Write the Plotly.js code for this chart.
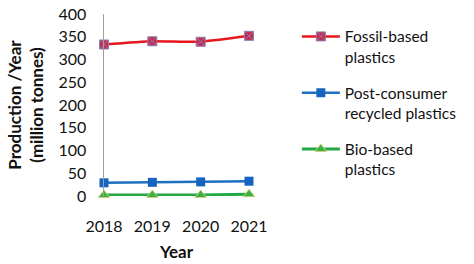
<!DOCTYPE html>
<html>
<head>
<meta charset="utf-8">
<script src="https://cdn.plot.ly/plotly-3.0.1.min.js"></script>
<style>html,body{margin:0;padding:0;background:#fff}#chart{width:474px;height:264px}</style>
</head>
<body>
<div id="chart"></div>
<script>
// Global plastics production by source (million tonnes)
const years = [2018, 2019, 2020, 2021];
const fossilBased = [333, 340, 339, 352];
const postConsumerRecycled = [29, 30, 31, 32.5];
const bioBased = [2, 2.1, 2.2, 4];
const yTicks = [0, 50, 100, 150, 200, 250, 300, 350, 400];

const font = "Lato, 'Noto Sans', sans-serif";

const traces = [
  {
    x: years, y: fossilBased, name: 'Fossil-based<br>plastics', legendgroup: 'fossil',
    mode: 'lines+markers', line: {color: '#e8161e', width: 2.5, shape: 'spline', smoothing: 0.5},
    marker: {symbol: 'square-x', size: 9, color: '#c4284c', line: {color: '#8e7fb0', width: 1}},
    cliponaxis: false
  },
  {
    x: years, y: postConsumerRecycled, name: 'Post-consumer<br>recycled plastics', legendgroup: 'recycled',
    mode: 'lines+markers', line: {color: '#1f70c1', width: 2.5},
    marker: {symbol: 'square', size: 9, color: '#1565c0'},
    cliponaxis: false
  },
  {
    x: years, y: bioBased, name: 'Bio-based<br>plastics', legendgroup: 'bio',
    mode: 'lines+markers', line: {color: '#22a844', width: 3},
    marker: {symbol: 'triangle-up', size: 10, color: '#3cb043', line: {color: '#c9d27a', width: 1}},
    cliponaxis: false
  }
];

const layout = {
  width: 474, height: 264,
  margin: {l: 104, r: 211, t: 14, b: 68},
  paper_bgcolor: '#fff', plot_bgcolor: '#fff',
  font: {family: font, size: 16, color: '#111'},
  showlegend: true,
  legend: {
    x: 1.33, y: 0.968, xanchor: 'left', yanchor: 'top',
    font: {family: font, size: 15.5, color: '#111'},
    traceorder: 'grouped', tracegroupgap: 13, valign: 'top',
    itemwidth: 38, entrywidth: 110, entrywidthmode: 'pixels',
    bgcolor: 'rgba(0,0,0,0)'
  },
  xaxis: {
    type: 'linear', range: [2018, 2021], tickvals: years, ticktext: years.map(String),
    showgrid: false, zeroline: false, showline: false, ticks: '',
    ticklabelstandoff: 19,
    title: {text: '<b>Year</b>', font: {family: font, size: 17}, standoff: 12}
  },
  yaxis: {
    range: [0, 400], tickvals: yTicks, showgrid: false, zeroline: false,
    showline: true, linecolor: '#a0a0a0', linewidth: 1.5, ticks: '',
    ticklabelstandoff: 13,
    title: {text: '<b>Production /Year<br>(million tonnes)</b>', font: {family: font, size: 17}, standoff: 10}
  }
};

Plotly.newPlot('chart', traces, layout, {staticPlot: true, displayModeBar: false});
</script>
</body>
</html>
